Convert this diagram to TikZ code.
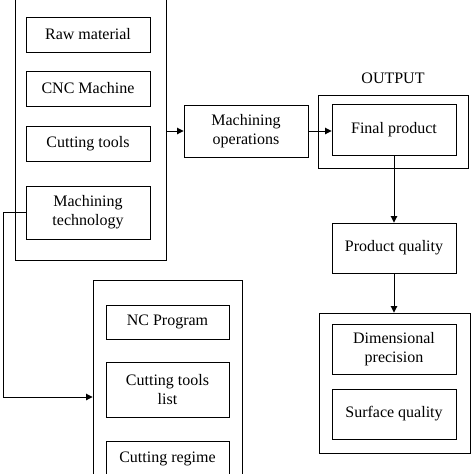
\documentclass[tikz,border=0pt]{standalone}
\usepackage{fontspec}
\setmainfont{Liberation Serif}
\usetikzlibrary{arrows.meta}
\begin{document}
\begin{tikzpicture}[x=1pt,y=-1pt,
  line width=0.9pt,
  box/.style={draw, inner sep=0pt, align=center, font=\fontsize{16}{19}\selectfont},
  frame/.style={draw, inner sep=0pt},
  arr/.style={-{Triangle[length=6.5pt,width=6.5pt]}}]
\useasboundingbox (0,0) rectangle (474,474);
\begin{scope}
\clip (0,0) rectangle (474,474);
% input frame
\node[frame, minimum width=151pt, minimum height=265pt] (inputs) at (90.5,127.5) {};
\node[box, minimum width=124pt, minimum height=35pt] (raw) at (88,34.5) {Raw material};
\node[box, minimum width=124pt, minimum height=35pt] (cnc) at (88,88.5) {CNC Machine};
\node[box, minimum width=124pt, minimum height=35pt] (ct) at (88,143.5) {Cutting tools};
\node[box, minimum width=124pt, minimum height=53pt] (mt) at (88,212.5) {Machining\\technology};
% machining operations
\node[box, minimum width=124pt, minimum height=52pt] (mo) at (246,131) {Machining\\operations};
% output
\node[frame, minimum width=150pt, minimum height=73pt] (outbox) at (393,131.5) {};
\node[font=\fontsize{16}{19}\selectfont, inner sep=0pt] (outlbl) at (393,78) {OUTPUT};
\node[box, minimum width=124pt, minimum height=51pt] (fp) at (394,129.5) {Final product};
\node[box, minimum width=124pt, minimum height=50pt] (pq) at (394,248) {Product quality};
\node[frame, minimum width=151pt, minimum height=140pt] (qbox) at (394.5,383) {};
\node[box, minimum width=124pt, minimum height=50pt] (dp) at (394,349) {Dimensional\\precision};
\node[box, minimum width=124pt, minimum height=50pt] (sq) at (394,414) {Surface quality};
% program frame
\node[frame, minimum width=149pt, minimum height=210pt] (progbox) at (167.5,385) {};
\node[box, minimum width=123pt, minimum height=34pt] (nc) at (167.5,322) {NC Program};
\node[box, minimum width=123pt, minimum height=55pt] (ctl) at (167.5,389.5) {Cutting tools\\list};
\node[box, minimum width=123pt, minimum height=35pt] (cr) at (167.5,458.5) {Cutting regime};
% connectors
\draw[arr] (inputs.east |- mo.west) -- (mo.west);
\draw[arr] (mo.east) -- (mo.east -| fp.west);
\draw[arr] (fp.south) -- (pq.north);
\draw[arr] (pq.south) -- (pq.south |- qbox.north);
\coordinate (c1) at (3,212.5);
\coordinate (c2) at (3,397);
\draw[arr] (mt.west) -- (c1) -- (c2) -- (c2 -| progbox.west);
\end{scope}
\end{tikzpicture}
\end{document}
